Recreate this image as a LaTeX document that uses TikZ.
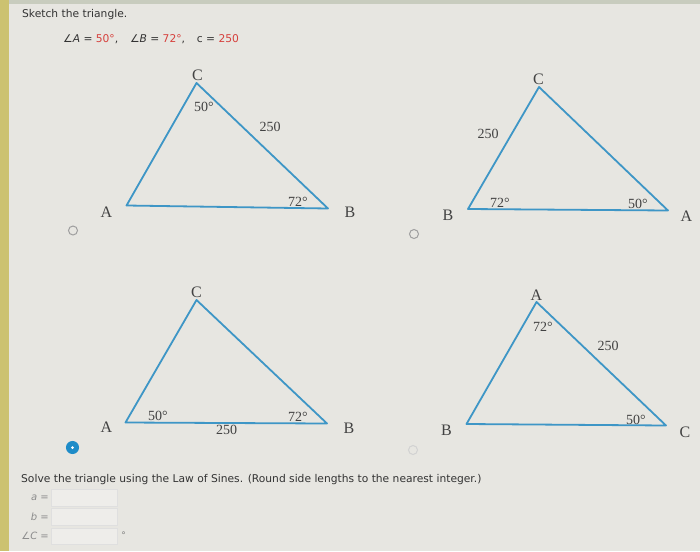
\documentclass[tikz,border=0pt]{standalone}
\usepackage{fontspec}
\setmainfont{DejaVu Sans}
\newfontfamily\trifont{Liberation Serif}
\usetikzlibrary{calc}
\definecolor{paper}{RGB}{231,230,225}
\definecolor{strip}{RGB}{204,194,112}
\definecolor{topband}{RGB}{200,204,190}
\definecolor{triblue}{RGB}{62,150,198}
\definecolor{inkgray}{RGB}{66,66,66}
\definecolor{given}{RGB}{214,64,60}
\definecolor{radioblue}{RGB}{30,140,200}
\tikzset{
  side/.style={draw=triblue, line width=1.8pt, line join=round},
  vertex/.style={font=\trifont\fontsize{16}{16}\selectfont, text=inkgray, inner sep=0pt},
  measure/.style={font=\trifont\fontsize{14}{14}\selectfont, text=inkgray, inner sep=0pt},
  prompt/.style={font=\fontsize{10.7}{12}\selectfont, text=black!80, inner sep=0pt, anchor=west},
  radio/.style={circle, draw=gray!75, line width=1pt, minimum size=9pt, inner sep=0pt},
  answer/.style={draw=gray!25, fill=paper!70!white, minimum width=66pt, minimum height=16.5pt, inner sep=0pt},
  fieldlbl/.style={font=\fontsize{10}{11}\selectfont, text=gray!90, inner sep=0pt, anchor=east}
}
\begin{document}
\begin{tikzpicture}[x=1pt,y=-1pt]
        \useasboundingbox (0,0) rectangle (700,551);
        \fill[paper] (0,0) rectangle (700,551);
        \fill[topband] (0,0) rectangle (700,4);
        \fill[strip] (0,0) rectangle (9,551);
        % Question
        \node[prompt] (ask) at (22,15) {Sketch the triangle.};
        \node[prompt] (given) at (63,39)
          {∠\textit{A} = \textcolor{given}{50°},\hspace{1.1em}∠\textit{B} = \textcolor{given}{72°},\hspace{1.1em}c = \textcolor{given}{250}};
        % First triangle
        \coordinate (a1) at (126.5,205.5);
        \coordinate (b1) at (328,208.5);
        \coordinate (c1) at (196.5,83);
        \draw[side] (a1) -- (b1) -- (c1) -- cycle;
        \node[vertex] (la1) at (106.5,212) {A};
        \node[vertex] (lb1) at (350,212) {B};
        \node[vertex] (lc1) at (197.5,75) {C};
        \node[measure] (ang1c) at (204,106.5) {50°};
        \node[measure] (len1) at (270,126.5) {250};
        \node[measure] (ang1b) at (298,201.5) {72°};
        \node[radio] (pick1) at (73,230.5) {};
        % Second triangle
        \coordinate (b2) at (468,209);
        \coordinate (a2) at (668,210.5);
        \coordinate (c2) at (539,87);
        \draw[side] (b2) -- (a2) -- (c2) -- cycle;
        \node[vertex] (lb2) at (448,215) {B};
        \node[vertex] (la2) at (686.5,216.5) {A};
        \node[vertex] (lc2) at (538.5,79) {C};
        \node[measure] (len2) at (488,134) {250};
        \node[measure] (ang2b) at (500,202.5) {72°};
        \node[measure] (ang2a) at (638,204) {50°};
        \node[radio] (pick2) at (414,234) {};
        % Third triangle
        \coordinate (a3) at (125.5,422.5);
        \coordinate (b3) at (327,423.5);
        \coordinate (c3) at (196.5,300);
        \draw[side] (a3) -- (b3) -- (c3) -- cycle;
        \node[vertex] (la3) at (106.5,427.5) {A};
        \node[vertex] (lb3) at (349,428) {B};
        \node[vertex] (lc3) at (196.5,292.5) {C};
        \node[measure] (ang3a) at (158,416) {50°};
        \node[measure] (ang3b) at (298,416.5) {72°};
        \node[measure] (len3) at (226.5,429.5) {250};
        \node[radio, draw=radioblue, fill=radioblue, minimum size=12pt] (pick3) at (72.5,447.5) {};
        \node[circle, fill=white, minimum size=3pt, inner sep=0pt] (dot3) at (pick3) {};
        % Fourth triangle
        \coordinate (b4) at (466.5,424);
        \coordinate (c4) at (666,425.5);
        \coordinate (a4) at (536.5,302);
        \draw[side] (b4) -- (c4) -- (a4) -- cycle;
        \node[vertex] (lb4) at (446.5,430.5) {B};
        \node[vertex] (lc4) at (685,432) {C};
        \node[vertex] (la4) at (536.5,295) {A};
        \node[measure] (ang4a) at (543,326.5) {72°};
        \node[measure] (len4) at (608,345.5) {250};
        \node[measure] (ang4c) at (636,420) {50°};
        \node[radio, draw=gray!35] (pick4) at (413,450) {};
        % Answers
        \node[prompt] (solve) at (21,480) {Solve the triangle using the Law of Sines. (Round side lengths to the nearest integer.)};
        \node[answer] (boxa) at (84.5,497.5) {};
        \node[answer] (boxb) at (84.5,516.5) {};
        \node[answer] (boxc) at (84.5,536) {};
        \node[fieldlbl] (laba) at (49,497.5) {\textit{a} =};
        \node[fieldlbl] (labb) at (49,516.5) {\textit{b} =};
        \node[fieldlbl] (labc) at (49,536) {∠\textit{C} =};
        \node[font=\fontsize{9}{9}\selectfont, text=gray, inner sep=0pt] (deg) at (123.5,535) {°};
      \end{tikzpicture}
\end{document}
